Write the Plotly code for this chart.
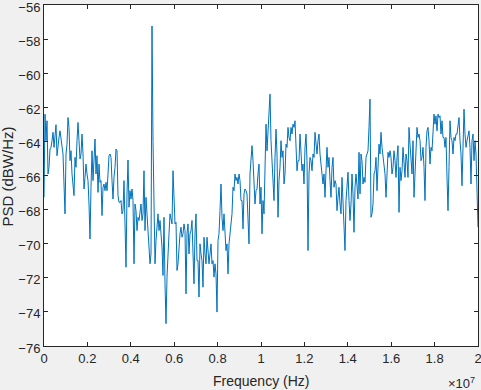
import numpy as np
import plotly.graph_objects as go

# PSD values (dBW/Hz), evenly spaced from 0 to 2e7 Hz
psd_seg1 = [-67.28, -62.40, -63.96, -62.79, -65.91, -65.52, -64.45, -64.35, -63.96, -63.47,
            -64.35, -63.57, -63.02, -64.84, -64.16, -63.77, -63.38, -63.96, -64.25, -64.74,
            -66.50, -68.25, -64.74, -64.16, -62.60, -63.18, -65.13, -64.55, -65.91, -66.69,
            -67.18, -64.94, -65.52, -63.96, -62.89, -63.96, -65.03, -64.74, -63.57, -64.74,
            -66.79, -66.11, -65.33, -65.91, -66.30, -67.67, -69.72, -66.69, -64.55, -66.30,
            -64.94, -63.86, -65.91, -64.84, -66.99, -65.33, -66.40, -66.30, -68.35, -66.69,
            -66.50, -66.89, -66.40, -66.89, -65.91, -64.84, -64.74, -64.94, -66.30, -67.38,
            -66.11, -65.52, -64.45, -64.55, -67.18, -67.57]
psd_seg2 = [-67.57, -67.47, -68.25, -68.06, -66.30, -69.23, -71.38, -67.08, -65.09, -67.86,
            -66.89, -67.38, -66.79, -67.47, -71.18, -67.67, -68.06, -69.23, -68.45, -68.64,
            -68.25, -67.67, -68.64, -68.25, -65.72, -69.23, -67.28, -68.25, -69.23, -70.20,
            -71.18, -70.60, -57.23, -64.00, -68.25, -71.18, -69.81, -68.64, -68.25, -69.23,
            -68.64, -69.42, -70.20, -71.86, -68.45, -72.35, -74.69, -71.96, -70.01, -69.42,
            -68.25, -68.64, -68.84, -65.72, -67.47, -68.84, -68.74, -71.57, -71.18, -70.20,
            -69.42, -69.03, -69.62, -69.42, -68.84, -69.23, -72.94, -69.42, -68.84, -70.60,
            -69.42, -69.23, -68.64, -70.60, -72.35]
psd_seg3 = [-69.42, -68.25, -70.99, -70.99, -73.13, -70.01, -70.60, -70.99, -72.55, -69.62,
            -70.60, -71.18, -69.62, -70.30, -71.18, -70.60, -70.01, -71.18, -70.99, -71.96,
            -71.18, -71.77, -74.01, -69.81, -69.42, -68.06, -66.50, -68.45, -69.23, -68.25,
            -69.42, -70.40, -70.01, -71.77, -70.01, -69.42, -69.03, -68.25, -66.69, -66.89,
            -65.91, -66.30, -66.11, -66.50, -65.91, -66.30, -67.47, -67.47, -69.13, -67.08,
            -66.79, -66.89, -67.08, -68.45, -70.01, -65.91, -64.94, -64.25, -65.13, -66.30,
            -67.67, -66.89, -66.79, -65.91, -65.33, -67.67, -66.69, -69.42, -67.47, -68.25,
            -66.11, -62.99, -64.55, -63.18, -61.62]
psd_seg4 = [-61.23, -63.96, -65.52, -66.69, -67.47, -64.94, -63.28, -64.74, -68.45, -66.30,
            -65.52, -63.96, -64.94, -64.55, -66.50, -65.91, -64.16, -64.35, -63.18, -63.77,
            -63.96, -63.18, -63.57, -62.99, -63.18, -62.79, -63.96, -65.72, -65.13, -65.13,
            -63.57, -65.13, -65.72, -65.33, -66.50, -64.35, -63.57, -65.13, -70.40, -65.91,
            -64.94, -65.13, -65.72, -64.74, -64.94, -63.47, -64.35, -64.74, -63.96, -63.57,
            -64.74, -65.33, -65.72, -66.50, -65.91, -67.28, -65.72, -64.35, -65.52, -64.94,
            -66.30, -67.28, -65.52, -64.94, -66.69, -66.30, -66.50, -68.06, -67.28, -66.69,
            -67.67, -68.25, -66.11, -67.47, -69.03]
psd_seg5 = [-70.40, -67.47, -66.69, -65.81, -67.47, -68.64, -67.67, -65.91, -67.08, -69.33,
            -66.69, -65.91, -66.60, -67.38, -64.64, -67.08, -64.74, -65.13, -66.50, -66.11,
            -66.40, -64.94, -64.74, -64.55, -63.18, -61.52, -68.45, -68.25, -67.67, -65.91,
            -65.72, -64.94, -66.89, -65.13, -64.16, -64.74, -63.47, -64.35, -64.94, -65.72,
            -65.91, -67.28, -65.52, -64.64, -64.94, -64.55, -64.94, -65.91, -65.52, -64.55,
            -65.13, -66.11, -64.94, -64.25, -68.16, -65.52, -66.30, -65.72, -64.35, -65.52,
            -66.11, -64.74, -65.13, -66.11, -63.18, -64.16, -65.13, -65.91, -63.96, -67.28,
            -65.91, -64.16, -63.18, -63.77, -63.57]
psd_seg6 = [-63.96, -65.13, -64.94, -64.35, -65.52, -67.47, -64.35, -63.38, -63.18, -63.96,
            -65.33, -64.35, -64.55, -63.18, -62.40, -62.99, -62.50, -63.38, -62.40, -62.60,
            -62.50, -63.57, -62.79, -63.77, -63.77, -64.35, -63.77, -66.11, -68.06, -65.52,
            -62.79, -63.77, -63.96, -64.74, -63.77, -63.96, -63.57, -63.57, -63.18, -62.60,
            -63.96, -64.74, -66.60, -63.96, -62.11, -63.57, -64.35, -63.96, -63.57, -63.38,
            -64.35, -66.50, -63.96, -63.57, -65.13, -63.96, -64.74, -66.69, -69.03]

psd_db = psd_seg1 + psd_seg2 + psd_seg3 + psd_seg4 + psd_seg5 + psd_seg6
freq_hz = np.linspace(0, 2e7, len(psd_db))

x_tickvals = [0, 2e6, 4e6, 6e6, 8e6, 10e6, 12e6, 14e6, 16e6, 18e6, 20e6]
x_ticktext = ["0", "0.2", "0.4", "0.6", "0.8", "1", "1.2", "1.4", "1.6", "1.8", "2"]
y_tickvals = [-76, -74, -72, -70, -68, -66, -64, -62, -60, -58, -56]

axis_color = "#262626"
font_family = "Liberation Sans, Arial, Helvetica, sans-serif"

fig = go.Figure()
fig.add_trace(go.Scatter(x=freq_hz, y=psd_db, mode="lines",
                         line=dict(color="#0072BD", width=1), showlegend=False))

common = dict(showline=True, linecolor=axis_color, linewidth=1, mirror="ticks",
              ticks="inside", ticklen=4, tickcolor=axis_color, tickwidth=1,
              showgrid=False, zeroline=False, automargin=False,
              ticklabeloverflow="allow",
              tickfont=dict(size=13, color=axis_color, family=font_family))

fig.update_layout(
    width=481, height=390,
    margin=dict(l=44, r=3, t=5, b=44),
    paper_bgcolor="#F0F0F0", plot_bgcolor="white",
    font=dict(family=font_family, color=axis_color),
    xaxis=dict(range=[0, 2e7], tickvals=x_tickvals, ticktext=x_ticktext, **common),
    yaxis=dict(range=[-76, -56], tickvals=y_tickvals, ticklabelshift=2, **common),
    annotations=[
        dict(text="Frequency (Hz)", xref="paper", yref="paper", x=0.5, y=0,
             xanchor="center", yanchor="middle", yshift=-35, showarrow=False,
             font=dict(size=14, color=axis_color, family=font_family)),
        dict(text="PSD (dBW/Hz)", xref="paper", yref="paper", x=0, y=0.497,
             xanchor="center", yanchor="middle", xshift=-36, textangle=-90,
             showarrow=False,
             font=dict(size=15, color=axis_color, family=font_family)),
        dict(text="×10<sup>7</sup>", xref="paper", yref="paper", x=1, y=0,
             xanchor="right", yanchor="bottom", yshift=-47, xshift=-1,
             showarrow=False,
             font=dict(size=13, color=axis_color, family=font_family)),
    ],
)

fig.write_html(
    "out.html",
    config={"displayModeBar": False},
    post_script="document.body.style.margin='0';document.body.style.overflow='hidden';",
)
